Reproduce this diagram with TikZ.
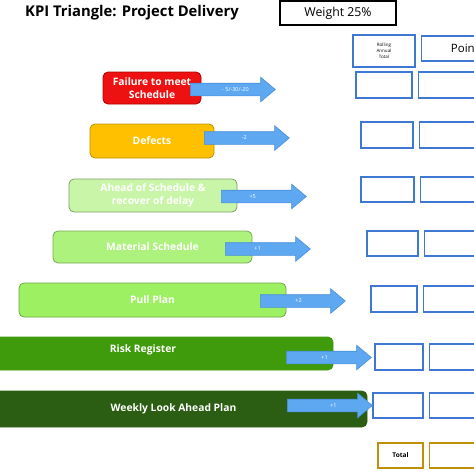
\documentclass[tikz,border=0pt]{standalone}
\usepackage{fontspec}
\setmainfont{Open Sans}
\usepackage{tikz}
\usetikzlibrary{shapes.arrows,positioning,calc}
\definecolor{scoreblue}{HTML}{3F78D2}
\definecolor{totalgold}{HTML}{C0900A}
\definecolor{arrowblue}{HTML}{5EA8F2}
\definecolor{arrowedge}{HTML}{4A8FD8}
\definecolor{failred}{HTML}{EE1111}
\definecolor{defectorange}{HTML}{FFC000}
\definecolor{aheadgreen}{HTML}{C8F5A8}
\definecolor{materialgreen}{HTML}{ADF27C}
\definecolor{pullgreen}{HTML}{9EF063}
\definecolor{riskgreen}{HTML}{3F9B0B}
\definecolor{weeklygreen}{HTML}{2B5E12}

\begin{document}
\begin{tikzpicture}[x=1pt, y=-1pt,
	kpibox/.style={draw, line width=0.8pt, rounded corners=5pt, inner sep=0pt, align=center, text=white, font=\fontsize{10.3}{13}\selectfont\bfseries},
	blockarrow/.style={shape=single arrow, fill=arrowblue, draw=arrowedge, line width=0.6pt, inner xsep=0pt, inner ysep=6pt, minimum height=85pt, single arrow head extend=6pt, single arrow tip angle=80, anchor=tail},
	arrowtext/.style={text=white, inner sep=0pt, font=\fontsize{5.5}{7}\selectfont},
	scorebox/.style={draw=scoreblue, line width=1.6pt, fill=white, inner sep=0pt, minimum height=26pt},
	pointbox/.style={scorebox, minimum width=92pt, right=5pt of #1}]
	\useasboundingbox (0,0) rectangle (474,474);
	\clip (0,0) rectangle (474,474);
	\node[anchor=west, inner sep=0pt, font=\fontsize{14.8}{17}\selectfont\bfseries] (title) at (25,13) {KPI Triangle: Project Delivery};
	\node[draw=black, line width=2pt, minimum width=116pt, minimum height=24pt, inner sep=0pt, font=\fontsize{12.3}{14}\selectfont] (weight) at (338,13) {Weight 25\%};
	\node[kpibox, fill=failred, draw=red!70!black, minimum width=98pt, minimum height=32pt] (fail) at (152,88) {Failure to meet\\Schedule};
	\node[kpibox, fill=defectorange, draw=defectorange!75!black, minimum width=124pt, minimum height=34pt] (defects) at (152,141) {Defects};
	\node[kpibox, fill=aheadgreen, draw=aheadgreen!65!black, minimum width=168pt, minimum height=33pt] (ahead) at (153,195.5) {Ahead of Schedule \&\\recover of delay};
	\node[kpibox, fill=materialgreen, draw=materialgreen!70!black, minimum width=199pt, minimum height=32pt] (material) at (152.5,247) {Material Schedule};
	\node[kpibox, fill=pullgreen, draw=pullgreen!70!black, minimum width=267pt, minimum height=34pt] (pull) at (152.5,300) {Pull Plan};
	\node[kpibox, fill=riskgreen, draw=riskgreen, minimum width=380pt, minimum height=33pt] (risk) at (143,353.5) {};
	\node[text=white, inner sep=0pt, font=\fontsize{10.3}{13}\selectfont\bfseries] (risklabel) at ([yshift=4pt]risk.center) {Risk Register};
	\node[kpibox, fill=weeklygreen, draw=weeklygreen, minimum width=387pt, minimum height=36pt] (weekly) at (173.5,409) {Weekly Look Ahead Plan};
	\node[blockarrow] (afail) at (190,89.5) {};
	\node[blockarrow] (adefects) at (204,138) {};
	\node[blockarrow] (aahead) at (221,196.5) {};
	\node[blockarrow] (amaterial) at (225,249) {};
	\node[blockarrow] (apull) at (260,301) {};
	\node[blockarrow] (arisk) at (286,357.5) {};
	\node[blockarrow] (aweekly) at (287,405.5) {};
	\node[arrowtext] at ($(afail.tail)!0.53!(afail.tip)$) {- 5/-30/-20};
	\node[arrowtext] at ($(adefects.tail)!0.47!(adefects.tip)$) {-2};
	\node[arrowtext] at ($(aahead.tail)!0.37!(aahead.tip)$) {+5};
	\node[arrowtext] at ($(amaterial.tail)!0.38!(amaterial.tip)$) {+1};
	\node[arrowtext] at ($(apull.tail)!0.45!(apull.tip)$) {+2};
	\node[arrowtext] at ($(arisk.tail)!0.45!(arisk.tip)$) {+1};
	\node[arrowtext] at ($(aweekly.tail)!0.54!(aweekly.tip)$) {+1};
	\node[scorebox, minimum width=62pt, minimum height=32pt, align=center, font=\fontsize{4.5}{6}\selectfont] (rolling) at (384,51) {Rolling\\Annual\\Total};
	\node[pointbox=rolling, minimum height=25pt, yshift=2.5pt, font=\fontsize{11.5}{14}\selectfont] (points) {Points};
	\node[scorebox, minimum width=56pt] (sfail) at (384,85) {};
	\node[pointbox=sfail] (pfail) {};
	\node[scorebox, minimum width=52pt] (sdefects) at (387,135) {};
	\node[pointbox=sdefects] (pdefects) {};
	\node[scorebox, minimum width=53pt, minimum height=25pt] (sahead) at (387.5,189.5) {};
	\node[pointbox=sahead, minimum height=25pt] (pahead) {};
	\node[scorebox, minimum width=51pt, minimum height=25pt] (smaterial) at (392.5,243.5) {};
	\node[pointbox=smaterial, minimum height=25pt] (pmaterial) {};
	\node[scorebox, minimum width=46pt] (spull) at (394,299) {};
	\node[pointbox=spull] (ppull) {};
	\node[scorebox, minimum width=48pt] (srisk) at (399,357) {};
	\node[pointbox=srisk] (prisk) {};
	\node[scorebox, minimum width=50pt, minimum height=25pt] (sweekly) at (398,405.5) {};
	\node[pointbox=sweekly, minimum height=25pt] (pweekly) {};
	\node[scorebox, draw=totalgold, minimum width=45pt, minimum height=25pt, font=\fontsize{6.5}{8}\selectfont\bfseries] (stotal) at (400.5,455.5) {Total};
	\node[pointbox=stotal, draw=totalgold, minimum height=25pt] (ptotal) {};
\end{tikzpicture}
\end{document}
